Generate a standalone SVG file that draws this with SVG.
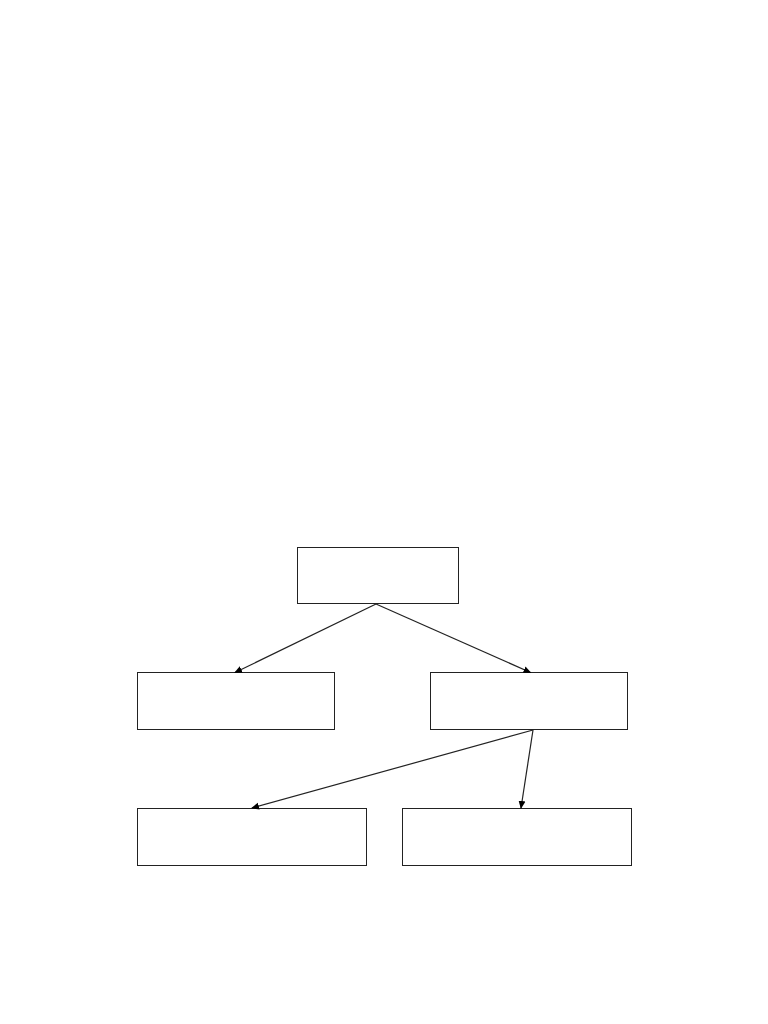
<svg xmlns="http://www.w3.org/2000/svg" width="768" height="1024" viewBox="0 0 768 1024">
<style>
.box{fill:#fff;stroke:#222;stroke-width:1}
.edge{fill:none;stroke:#222;stroke-width:1.2;marker-end:url(#ah)}
</style>
<defs>
<marker id="ah" markerWidth="8" markerHeight="8" refX="7" refY="4" orient="auto" markerUnits="userSpaceOnUse">
<path d="M0,0.5 L8,4 L0,7.5 Z" fill="#000"/>
</marker>
</defs>
<rect width="768" height="1024" fill="#fff"/>
<g id="n1"><rect class="box" x="297.5" y="547.5" width="161" height="56"/></g>
<g id="n2"><rect class="box" x="137.5" y="672.5" width="197" height="57"/></g>
<g id="n3"><rect class="box" x="430.5" y="672.5" width="197" height="57"/></g>
<g id="n4"><rect class="box" x="137.5" y="808.5" width="229" height="57"/></g>
<g id="n5"><rect class="box" x="402.5" y="808.5" width="229" height="57"/></g>
<g id="edges">
<path class="edge" d="M376,604 L235,672.5"/>
<path class="edge" d="M376,604 L530.5,672.5"/>
<path class="edge" d="M533,730 L252,808"/>
<path class="edge" d="M533,730 L521,808"/>
</g>
</svg>
